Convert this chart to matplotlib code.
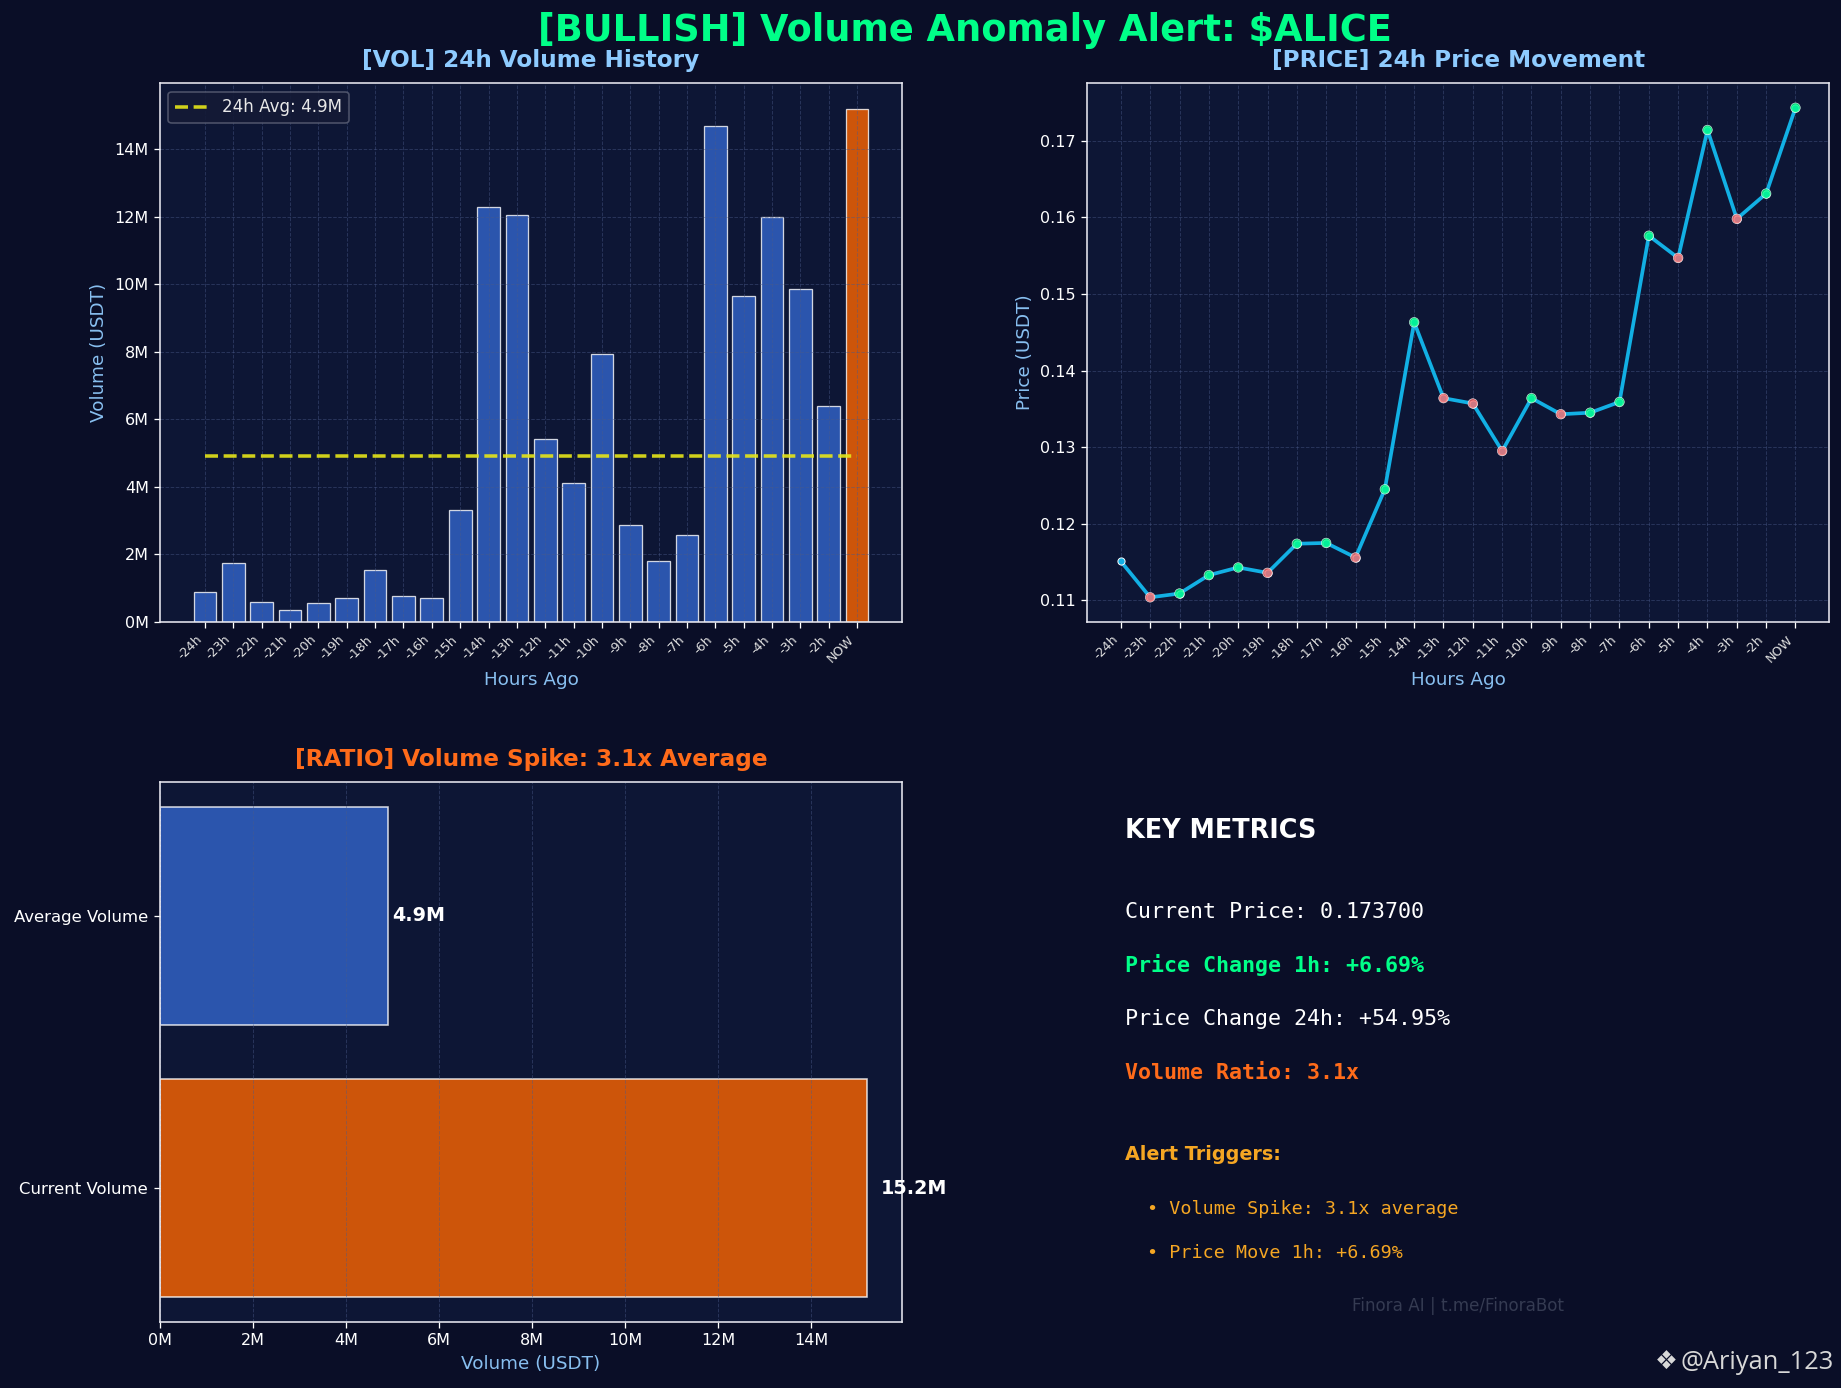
import matplotlib
matplotlib.use('Agg')
import matplotlib.pyplot as plt
from matplotlib.ticker import FuncFormatter, MultipleLocator

# ---------------- data ----------------
hours = ['-24h', '-23h', '-22h', '-21h', '-20h', '-19h', '-18h', '-17h', '-16h',
         '-15h', '-14h', '-13h', '-12h', '-11h', '-10h', '-9h', '-8h', '-7h',
         '-6h', '-5h', '-4h', '-3h', '-2h', 'NOW']
volume_m = [0.87, 1.74, 0.59, 0.35, 0.56, 0.70, 1.53, 0.77, 0.70, 3.31, 12.30, 12.05,
            5.43, 4.11, 7.94, 2.86, 1.81, 2.58, 14.70, 9.65, 11.99, 9.86, 6.41, 15.20]
price = [0.1151, 0.1104, 0.1109, 0.1133, 0.1143, 0.1136, 0.1174, 0.1175, 0.1156,
         0.1245, 0.1463, 0.1364, 0.1357, 0.1295, 0.1364, 0.1343, 0.1345, 0.1359,
         0.1576, 0.1547, 0.1714, 0.1598, 0.1631, 0.1743]
avg_volume_m = 4.9
ratio_labels = ['Current Volume', 'Average Volume']
ratio_values_m = [15.2, 4.9]
ratio = 3.1

title = '[BULLISH] Volume Anomaly Alert: $ALICE'
metrics_header = 'KEY METRICS'
metric_lines = ['Current Price: 0.173700', 'Price Change 1h: +6.69%',
                'Price Change 24h: +54.95%', 'Volume Ratio: 3.1x']
triggers_header = 'Alert Triggers:'
trigger_lines = ['• Volume Spike: 3.1x average', '• Price Move 1h: +6.69%']
footer = 'Finora AI | t.me/FinoraBot'
watermark = '@Ariyan_123'

# ---------------- style ----------------
BG = '#0a0e27'
AXBG = '#0d1635'
BLUE = '#3366cc'
ORANGE = '#ff6600'
GREEN = '#00ff88'
RED = '#ff6b6b'
LINE = '#12b0e4'
TITLE_BLUE = '#8ecbff'
LABEL_BLUE = '#88bff0'
TITLE_ORANGE = '#ff6b1a'
YELLOW = '#f5a623'
GRID = '#4a5a8a'

plt.rcParams['font.family'] = ['DejaVu Sans']
dpi = 115
fig = plt.figure(figsize=(1841 / dpi, 1388 / dpi), dpi=dpi, facecolor=BG)

def style_axes(ax, grid_axis='both'):
    ax.set_facecolor(AXBG)
    for s in ax.spines.values():
        s.set_color('#e8e8f0')
        s.set_linewidth(1.0)
    ax.tick_params(colors='white', labelsize=10)
    ax.grid(True, axis=grid_axis, color=GRID, linestyle='--', linewidth=0.6, alpha=0.45)

mfmt = FuncFormatter(lambda v, p: f'{v:.0f}M')

# ---- volume history ----
ax1 = fig.add_axes([0.0869, 0.552, 0.4031, 0.388])
style_axes(ax1)
x = list(range(len(hours)))
colors = [BLUE] * (len(hours) - 1) + [ORANGE]
ax1.bar(x, volume_m, width=0.8, color=colors, alpha=0.8, edgecolor='white', linewidth=0.8)
ax1.plot([0, len(hours) - 1], [avg_volume_m, avg_volume_m], color='#e6e619', linestyle='--',
         linewidth=2.2, alpha=0.9, label=f'24h Avg: {avg_volume_m}M')
ax1.set_xticks(x)
ax1.set_xticklabels(hours, rotation=45, ha='right', fontsize=8, color='#e0e0e0')
ax1.yaxis.set_major_locator(MultipleLocator(2))
ax1.yaxis.set_major_formatter(mfmt)
ax1.set_xlabel('Hours Ago', color=LABEL_BLUE, fontsize=11.5)
ax1.set_ylabel('Volume (USDT)', color=LABEL_BLUE, fontsize=11.5)
ax1.set_title('[VOL] 24h Volume History', color=TITLE_BLUE, fontsize=14.5, fontweight='bold', pad=10)
leg = ax1.legend(loc='upper left', fontsize=10.5, facecolor='#141a36', edgecolor='#555a70',
                 labelcolor='#e8e8e8', framealpha=0.9)

# ---- price movement ----
ax2 = fig.add_axes([0.5905, 0.552, 0.4031, 0.388])
style_axes(ax2)
ax2.plot(x, price, color=LINE, linewidth=2.3, marker='o', markersize=4.5,
         markeredgecolor='white', markeredgewidth=0.6, zorder=3)
pc = [GREEN if price[i] >= price[i - 1] else RED for i in range(1, len(price))]
ax2.scatter(x[1:], price[1:], c=pc, s=36, zorder=4, edgecolors='white', linewidths=0.4, alpha=0.8)
ax2.set_xticks(x)
ax2.set_xticklabels(hours, rotation=45, ha='right', fontsize=8, color='#e0e0e0')
ax2.yaxis.set_major_formatter(FuncFormatter(lambda v, p: f'{v:.2f}'))
ax2.set_xlabel('Hours Ago', color=LABEL_BLUE, fontsize=11.5)
ax2.set_ylabel('Price (USDT)', color=LABEL_BLUE, fontsize=11.5)
ax2.set_title('[PRICE] 24h Price Movement', color=TITLE_BLUE, fontsize=14.5, fontweight='bold', pad=10)

# ---- ratio ----
ax3 = fig.add_axes([0.0869, 0.0476, 0.4031, 0.389])
style_axes(ax3, grid_axis='x')
ax3.barh(ratio_labels, ratio_values_m, height=0.8, color=[ORANGE, BLUE], alpha=0.8,
         edgecolor='white', linewidth=1.0)
for i, v in enumerate(ratio_values_m):
    ax3.text(v * 1.02, i, f'{v}M', color='white', fontsize=12, fontweight='bold',
             va='center', ha='left')
ax3.xaxis.set_major_locator(MultipleLocator(2))
ax3.xaxis.set_major_formatter(mfmt)
ax3.set_xlim(0, max(ratio_values_m) * 1.05)
ax3.set_xlabel('Volume (USDT)', color=LABEL_BLUE, fontsize=11.5)
ax3.set_title(f'[RATIO] Volume Spike: {ratio}x Average', color=TITLE_ORANGE, fontsize=14.5,
              fontweight='bold', pad=10)
ax3.tick_params(axis='y', length=4, labelsize=10.3)

# ---- metrics text ----
fig.text(0.611, 0.4015, metrics_header, color='white', fontsize=16, fontweight='bold',
         va='center', ha='left')
m_styles = [('white', 'normal'), (GREEN, 'bold'), ('white', 'normal'), (TITLE_ORANGE, 'bold')]
m_y = [0.3430, 0.3050, 0.2660, 0.2270]
for line, (c, w), yy in zip(metric_lines, m_styles, m_y):
    fig.text(0.611, yy, line, color=c, fontsize=13.5, fontweight=w, family='DejaVu Sans Mono',
             va='center', ha='left')
fig.text(0.611, 0.1680, triggers_header, color=YELLOW, fontsize=12, fontweight='bold',
         va='center', ha='left')
for line, yy in zip(trigger_lines, [0.1292, 0.0975]):
    fig.text(0.623, yy, line, color=YELLOW, fontsize=11.5, family='DejaVu Sans Mono',
             va='center', ha='left')
fig.text(0.792, 0.059, footer, color='#353b52', fontsize=10.5, ha='center', va='center')
fig.text(0.996, 0.0187, watermark, color='#d8d8d8', fontsize=16, ha='right', va='center',
         family='Open Sans')
fig.text(0.905, 0.0187, '❖', color='#d8d8d8', fontsize=16, ha='center', va='center')

fig.suptitle(title, color=GREEN, fontsize=23, fontweight='bold', x=0.524, y=0.978, va='center')

fig.savefig('out.png', dpi=dpi, facecolor=BG)
